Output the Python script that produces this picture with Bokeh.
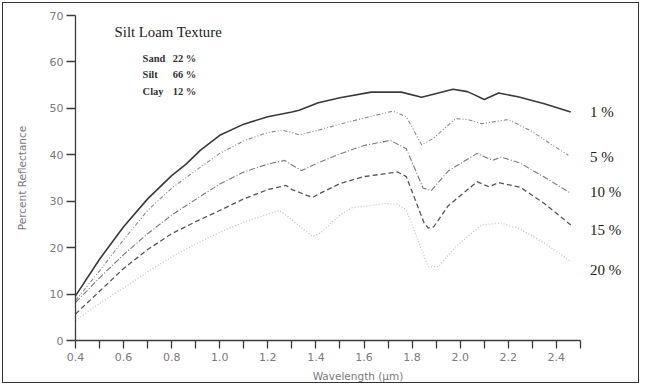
from bokeh.plotting import figure
from bokeh.models import FixedTicker, Range1d, NumeralTickFormatter
from bokeh.core.properties import value
from bokeh.embed import file_html
from bokeh.resources import INLINE

# ---- data ----
wl_1 = [0.40, 0.50, 0.60, 0.70, 0.80, 0.86, 0.92, 1.00, 1.10, 1.20, 1.30, 1.33, 1.41, 1.50,
        1.63, 1.755, 1.84, 1.97, 2.03, 2.06, 2.10, 2.16, 2.24, 2.35, 2.46]
r_1 = [9.6, 17.5, 24.5, 30.5, 35.5, 38.0, 41.0, 44.2, 46.6, 48.2, 49.2, 49.6, 51.2, 52.3,
       53.5, 53.5, 52.4, 54.1, 53.6, 52.9, 51.9, 53.3, 52.5, 51.0, 49.2]

wl_5 = [0.40, 0.50, 0.60, 0.70, 0.80, 0.90, 1.00, 1.10, 1.20, 1.26, 1.30, 1.33, 1.41, 1.50,
        1.60, 1.72, 1.776, 1.84, 1.89, 1.98, 2.03, 2.09, 2.20, 2.30, 2.38, 2.45]
r_5 = [8.6, 15.0, 21.7, 28.0, 32.8, 36.6, 40.3, 43.0, 44.8, 45.3, 44.8, 44.3, 45.3, 46.6,
       47.9, 49.4, 48.2, 42.1, 43.6, 47.8, 47.6, 46.7, 47.6, 45.0, 42.2, 39.9]

wl_10 = [0.40, 0.50, 0.60, 0.70, 0.80, 0.90, 1.00, 1.10, 1.20, 1.27, 1.30, 1.34, 1.41, 1.50,
         1.60, 1.71, 1.776, 1.846, 1.88, 1.95, 2.07, 2.135, 2.17, 2.25, 2.35, 2.46]
r_10 = [8.2, 13.5, 18.5, 23.0, 27.0, 30.4, 33.7, 36.3, 38.0, 38.8, 37.8, 36.6, 38.3, 40.2,
        42.0, 43.1, 41.3, 32.8, 32.3, 36.5, 40.3, 38.8, 39.5, 38.2, 35.2, 31.7]

wl_15 = [0.40, 0.50, 0.60, 0.70, 0.80, 0.90, 1.00, 1.10, 1.20, 1.276, 1.30, 1.386, 1.41, 1.50,
         1.60, 1.74, 1.776, 1.85, 1.867, 1.89, 1.95, 2.07, 2.12, 2.16, 2.25, 2.35, 2.46]
r_15 = [5.7, 10.6, 15.5, 19.6, 23.0, 25.6, 28.0, 30.5, 32.5, 33.4, 32.5, 30.8, 31.5, 33.8,
        35.3, 36.3, 35.3, 25.3, 24.2, 24.5, 29.0, 34.2, 33.1, 34.0, 33.0, 29.5, 24.9]

wl_20 = [0.40, 0.50, 0.60, 0.70, 0.80, 0.90, 1.00, 1.10, 1.248, 1.30, 1.386, 1.42, 1.50,
         1.55, 1.69, 1.74, 1.776, 1.867, 1.91, 1.98, 2.09, 2.17, 2.25, 2.35, 2.46]
r_20 = [4.3, 8.0, 11.3, 14.8, 18.0, 20.8, 23.3, 25.5, 28.0, 26.0, 22.4, 23.2, 27.0,
        28.6, 29.5, 29.3, 28.1, 15.9, 15.9, 20.2, 24.9, 25.3, 24.0, 21.0, 17.0]

series_labels = ["1 %", "5 %", "10 %", "15 %", "20 %"]
label_y = [49.2, 39.5, 32.0, 23.9, 15.2]
label_x = 2.54

x_ticks = [0.4, 0.6, 0.8, 1.0, 1.2, 1.4, 1.6, 1.8, 2.0, 2.2, 2.4]
x_minor = [0.5, 0.7, 0.9, 1.1, 1.3, 1.5, 1.7, 1.9, 2.1, 2.3, 2.5]
y_ticks = [0, 10, 20, 30, 40, 50, 60, 70]

title_text = "Silt Loam Texture"
comp_names = ["Sand", "Silt", "Clay"]
comp_values = ["22 %", "66 %", "12 %"]
comp_y = [60.8, 57.3, 53.7]

# ---- figure ----
W, H = 637, 381
p = figure(width=W, height=H, output_backend="svg", toolbar_location=None,
           x_range=Range1d(0.4, 2.75), y_range=Range1d(0, 70),
           min_border_left=72, min_border_right=0, min_border_top=12, min_border_bottom=44)
p.styles = {"margin": "2px", "border": "1.5px solid #333333"}
p.grid.visible = False
p.outline_line_color = None
p.background_fill_color = "white"
p.border_fill_color = "white"

axis_col = "#3c3c3c"
lab_col = "#7a7a7a"
sans = "DejaVu Sans"
serif = "Liberation Serif"

xa = p.xaxis[0]
xa.ticker = FixedTicker(ticks=x_ticks, minor_ticks=x_minor)
xa.formatter = NumeralTickFormatter(format="0.0")
xa.bounds = (0.4, 2.5)
xa.axis_line_color = axis_col
xa.axis_line_width = 1.3
xa.major_tick_line_color = axis_col
xa.minor_tick_line_color = axis_col
xa.major_tick_line_width = 1.3
xa.minor_tick_line_width = 1.3
xa.major_tick_out = 8
xa.major_tick_in = 0
xa.minor_tick_out = 8
xa.minor_tick_in = 0
xa.major_label_text_font = sans
xa.major_label_text_font_size = "11px"
xa.major_label_text_color = lab_col
xa.major_label_standoff = 4
xa.axis_label = "Wavelength (\u00b5m)"
xa.axis_label_text_font = sans
xa.axis_label_text_font_size = "10.5px"
xa.axis_label_text_font_style = "normal"
xa.axis_label_text_color = lab_col
xa.axis_label_standoff = 6

ya = p.yaxis[0]
ya.ticker = FixedTicker(ticks=y_ticks, minor_ticks=[])
ya.axis_line_color = axis_col
ya.axis_line_width = 1.3
ya.major_tick_line_color = axis_col
ya.major_tick_line_width = 1.3
ya.major_tick_out = 9
ya.major_tick_in = 0
ya.minor_tick_out = 0
ya.minor_tick_in = 0
ya.major_label_text_font = sans
ya.major_label_text_font_size = "11px"
ya.major_label_text_color = lab_col
ya.major_label_standoff = 3
ya.axis_label = "Percent Reflectance"
ya.axis_label_text_font = sans
ya.axis_label_text_font_size = "10.5px"
ya.axis_label_text_font_style = "normal"
ya.axis_label_text_color = lab_col
ya.axis_label_standoff = 19

# ---- curves ----
p.line(wl_20, r_20, line_color="#c4c4c4", line_width=1.3, line_dash="1 2")
p.line(wl_15, r_15, line_color="#555555", line_width=1.3, line_dash="5 3")
p.line(wl_10, r_10, line_color="#7a7a7a", line_width=1.1, line_dash="6 2 1 2")
p.line(wl_5, r_5, line_color="#8a8a8a", line_width=1.1, line_dash="4 2 1 2 1 2")
p.line(wl_1, r_1, line_color="#3a3a3a", line_width=1.6)

# ---- texts ----
p.text(x=[label_x] * len(series_labels), y=label_y, text=series_labels,
       text_font=value(serif), text_font_size="15px", text_color="#222222",
       text_baseline="middle", text_align="left")

p.text(x=[0.5625], y=[66.35], text=[title_text], text_font=value(serif),
       text_font_size="14.8px", text_color="#222222", text_baseline="middle")
p.text(x=[0.679] * 3, y=comp_y, text=comp_names, text_font=value(serif),
       text_font_size="10.5px", text_font_style="bold", text_color="#333333",
       text_baseline="middle")
p.text(x=[0.804] * 3, y=comp_y, text=comp_values, text_font=value(serif),
       text_font_size="10.5px", text_font_style="bold", text_color="#333333",
       text_baseline="middle")

open("out.html", "w").write(file_html(p, INLINE))
